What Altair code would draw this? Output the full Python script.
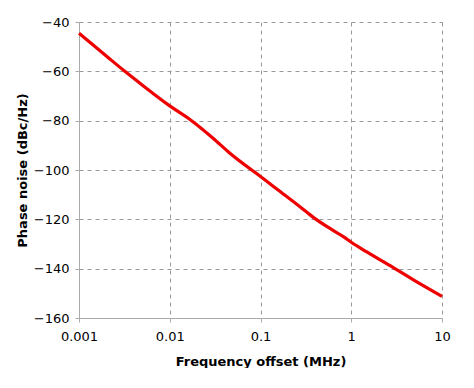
import altair as alt
import pandas as pd

freq_mhz = [0.001, 0.002, 0.0032, 0.005, 0.01, 0.0174, 0.03, 0.046, 0.08, 0.1,
            0.15, 0.272, 0.382, 0.6, 0.85, 1.0, 1.5, 3.03, 5.0, 10.0]
phase_noise = [-44.6, -53.8, -60.0, -65.6, -74.0, -80.0, -87.1, -93.2, -100.0, -102.6,
               -107.6, -114.9, -119.2, -124.0, -127.4, -129.3, -133.3, -140.0, -144.8, -151.2]

x_ticks = [0.001, 0.01, 0.1, 1, 10]
y_ticks = [-160, -140, -120, -100, -80, -60, -40]

df = pd.DataFrame({"f": freq_mhz, "pn": phase_noise})

font = "DejaVu Sans"

chart = alt.Chart(df).mark_line(color="#ee0000", strokeWidth=3.2, interpolate="monotone").encode(
    x=alt.X("f:Q", scale=alt.Scale(type="log", domain=[0.001, 10]),
            axis=alt.Axis(values=x_ticks, format="~g", title="Frequency offset (MHz)",
                          grid=True, gridDash=[4, 4], gridColor="#999999",
                          domainColor="#aaaaaa", tickColor="#aaaaaa", tickSize=4,
                          labelFont=font, labelFontSize=13, labelColor="#000000",
                          labelPadding=8, titleFont=font, titleFontSize=13,
                          titleFontWeight="bold", titleColor="#000000", titlePadding=12,
                          labelFlush=False)),
    y=alt.Y("pn:Q", scale=alt.Scale(domain=[-160, -40], nice=False, zero=False),
            axis=alt.Axis(values=y_ticks, title="Phase noise (dBc/Hz)",
                          grid=True, gridDash=[4, 4], gridColor="#999999",
                          domainColor="#aaaaaa", tickColor="#aaaaaa", tickSize=4,
                          labelFont=font, labelFontSize=13, labelColor="#000000",
                          labelPadding=6, titleFont=font, titleFontSize=13,
                          titleFontWeight="bold", titleColor="#000000", titlePadding=4)),
).properties(
    width=363, height=296,
    autosize=alt.AutoSizeParams(type="none"),
    padding={"left": 71, "top": 14, "right": 20, "bottom": 50},
).configure_view(stroke=None)

chart.save("out.html", embed_options={"renderer": "svg", "actions": False})
